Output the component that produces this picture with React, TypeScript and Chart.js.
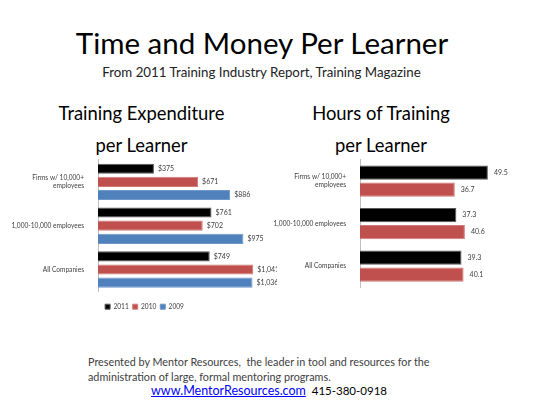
import { useEffect, useRef } from 'react'
import { Chart, ChartConfiguration, registerables } from 'chart.js'

Chart.register(...registerables)

// categories shared by both charts
const groups: (string | string[])[] = [['Firms w/ 10,000+', 'employees'], '1,000-10,000 employees', 'All Companies']
const years = ['2011', '2010', '2009']

// training expenditure per learner ($)
const spend2011 = [375, 761, 749]
const spend2010 = [671, 702, 1041]
const spend2009 = [886, 975, 1036]

// hours of training per learner
const hours2011 = [49.5, 37.3, 39.3]
const hours2010 = [36.7, 40.6, 40.1]

const FONT = 'Lato, "Open Sans", sans-serif'

// draws the number just right of each bar end
function valueLabels(format: (v: number) => string, offset: number) {
  return {
    id: 'valueLabels',
    afterDatasetsDraw(chart: Chart) {
      const { ctx } = chart
      ctx.save()
      ctx.font = `7px ${FONT}`
      ctx.fillStyle = '#404040'
      ctx.textBaseline = 'middle'
      ctx.textAlign = 'left'
      chart.data.datasets.forEach((ds, i) => {
        const meta = chart.getDatasetMeta(i)
        meta.data.forEach((bar: any, j) => {
          ctx.fillText(format(ds.data[j] as number), bar.x + offset, bar.y)
        })
      })
      ctx.restore()
    }
  }
}

function BarChart({ config }: { config: ChartConfiguration<'bar'> }) {
  const canvasRef = useRef<HTMLCanvasElement>(null)

  useEffect(() => {
    if (!canvasRef.current) return
    const chart = new Chart(canvasRef.current, config as ChartConfiguration)
    return () => chart.destroy()
  }, [config])

  return <canvas ref={canvasRef} />
}

const axisTicks = { color: '#404040', font: { family: FONT, size: 6.6 }, padding: 6 }

const spendConfig: ChartConfiguration<'bar'> = {
  type: 'bar',
  data: {
    labels: groups,
    datasets: [
      { label: years[0], data: spend2011, backgroundColor: '#000000', borderColor: '#5a5a5a', borderWidth: 1 },
      { label: years[1], data: spend2010, backgroundColor: '#c0504d', borderColor: '#d27a77', borderWidth: 1 },
      { label: years[2], data: spend2009, backgroundColor: '#4f81bd', borderColor: '#6f97c8', borderWidth: 1 }
    ]
  },
  options: {
    indexAxis: 'y',
    responsive: true,
    maintainAspectRatio: false,
    animation: false,
    categoryPercentage: 0.9,
    barPercentage: 0.77,
    layout: { padding: { left: 12, top: 9.75, right: 0, bottom: 0 } },
    plugins: {
      tooltip: { enabled: false },
      legend: {
        position: 'bottom',
        title: { display: true, text: '', font: { size: 2 }, padding: { top: 0, bottom: 5.6 } },
        labels: { boxWidth: 5, boxHeight: 5, padding: 4, color: '#404040', font: { family: FONT, size: 6.6 } }
      }
    },
    scales: {
      x: { display: false, min: 0, max: 1200 },
      y: {
        grid: { display: false },
        border: { display: true, color: '#bfbfbf' },
        ticks: axisTicks,
        afterFit: (scale: any) => { scale.width = 86 }
      }
    }
  },
  plugins: [valueLabels(v => '$' + v.toLocaleString('en-US'), 4)]
}

const hoursConfig: ChartConfiguration<'bar'> = {
  type: 'bar',
  data: {
    labels: groups,
    datasets: [
      { label: years[0], data: hours2011, backgroundColor: '#000000', borderColor: '#5a5a5a', borderWidth: 1 },
      { label: years[1], data: hours2010, backgroundColor: '#c0504d', borderColor: '#d27a77', borderWidth: 1 }
    ]
  },
  options: {
    indexAxis: 'y',
    responsive: true,
    maintainAspectRatio: false,
    animation: false,
    categoryPercentage: 0.8,
    barPercentage: 0.84,
    layout: { padding: { left: 0, top: 9.75, right: 0, bottom: 2 } },
    plugins: {
      tooltip: { enabled: false },
      legend: { display: false }
    },
    scales: {
      x: { display: false, min: 0, max: 60 },
      y: {
        grid: { display: false },
        border: { display: true, color: '#bfbfbf' },
        ticks: axisTicks,
        afterFit: (scale: any) => { scale.width = 94 }
      }
    }
  },
  plugins: [valueLabels(v => v.toFixed(1), 6)]
}

const abs = (left: number, top: number, width: number, height: number): React.CSSProperties => ({
  position: 'absolute', left, top, width, height
})

export default function App() {
  return (
    <div style={{ position: 'absolute', left: 0, top: 0, width: 552, height: 414, background: '#fff', fontFamily: FONT, color: '#000' }}>
      <div style={{ position: 'absolute', left: 0, width: 524, top: 25, textAlign: 'center', fontSize: 29.5, lineHeight: '36px' }}>
        Time and Money Per Learner
      </div>
      <div style={{ position: 'absolute', left: 0, width: 523, top: 64, textAlign: 'center', fontSize: 13.3, lineHeight: '16px', color: '#222' }}>
        From 2011 Training Industry Report, Training Magazine
      </div>
      <div style={{ position: 'absolute', left: 0, width: 283, top: 97, textAlign: 'center', fontSize: 18.4, lineHeight: '32px' }}>
        Training Expenditure<br />per Learner
      </div>
      <div style={{ position: 'absolute', left: 240, width: 282, top: 97, textAlign: 'center', fontSize: 18.4, lineHeight: '32px' }}>
        Hours of Training<br />per Learner
      </div>

      <div style={abs(0, 150, 277, 170)}>
        <BarChart config={spendConfig} />
      </div>
      <div style={abs(266, 150, 249, 151.25)}>
        <BarChart config={hoursConfig} />
      </div>

      <div style={{ position: 'absolute', left: 88, top: 353.5, fontSize: 10.8, lineHeight: '15px', color: '#404040' }}>
        Presented by Mentor Resources,&nbsp; the leader in tool and resources for the<br />
        administration of large, formal mentoring programs.
      </div>
      <div style={{ position: 'absolute', left: 151, top: 383, fontSize: 12.5, lineHeight: '16px', whiteSpace: 'nowrap' }}>
        <span style={{ color: '#0000ff', textDecoration: 'underline' }}>www.MentorResources.com</span>
        <span style={{ fontSize: 11.5 }}>&nbsp; 415-380-0918</span>
      </div>
    </div>
  )
}
